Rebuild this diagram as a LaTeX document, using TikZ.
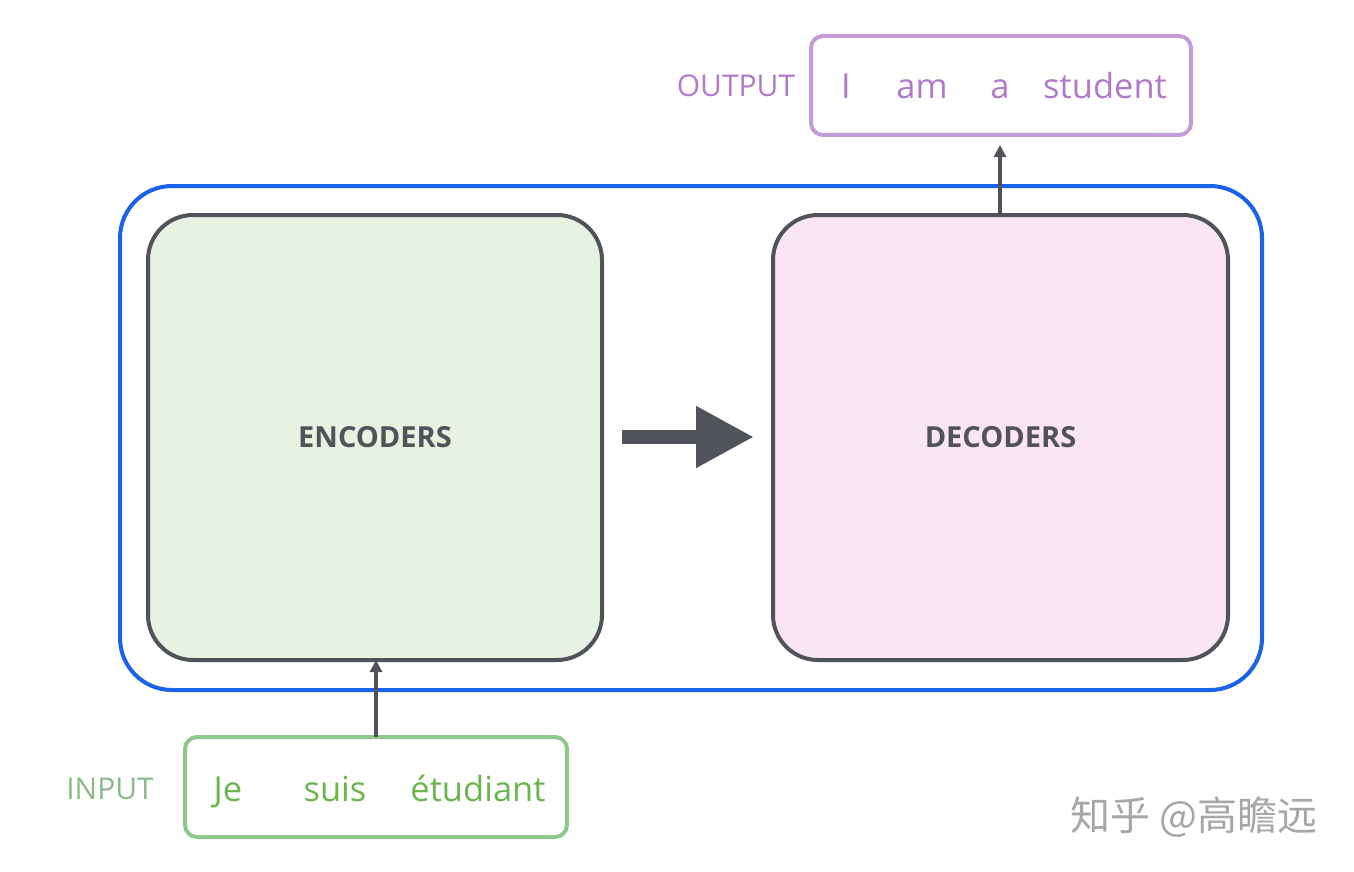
\documentclass[tikz,border=0pt]{standalone}
\usepackage{fontspec}
\setmainfont{Open Sans}
\newfontfamily\cjkfont{Noto Sans CJK SC}
\usetikzlibrary{arrows.meta}
\definecolor{blueline}{HTML}{1A62E8}
\definecolor{darkline}{HTML}{505359}
\definecolor{encfill}{HTML}{E7F2E2}
\definecolor{decfill}{HTML}{FAE6F1}
\definecolor{ingreen}{HTML}{8FC88C}
\definecolor{intext}{HTML}{6BB54F}
\definecolor{inlabel}{HTML}{8DB98A}
\definecolor{outline}{HTML}{C39CD8}
\definecolor{outtext}{HTML}{B07ACB}
\begin{document}
\begin{tikzpicture}[x=1pt,y=-1pt,
  block/.style={draw=darkline,line width=4pt,rounded corners=45pt},
  word/.style={font=\fontsize{34.5}{40}\selectfont,anchor=base,inner sep=0pt},
  lab/.style={font=\fontsize{30}{34}\selectfont,anchor=base,inner sep=0pt},
  conn/.style={draw=darkline,line width=4pt,-{Triangle[length=12pt,width=12pt]}}]
\useasboundingbox (0,0) rectangle (1354,872);
\draw[blueline,line width=4pt,rounded corners=52pt] (120,186) rectangle (1262,690);
\node[block,fill=encfill,minimum width=454pt,minimum height=445pt] (enc) at (375,437.5) {};
\node[text=darkline,font=\fontsize{29}{32}\selectfont\bfseries] at (enc) {ENCODERS};
\node[block,fill=decfill,minimum width=455pt,minimum height=445pt] (dec) at (1000.5,437.5) {};
\node[text=darkline,font=\fontsize{29}{32}\selectfont\bfseries] at (dec) {DECODERS};
\draw[darkline,line width=14pt,-{Triangle[length=58pt,width=58pt]}] (622,437) -- (754,437);
\node[draw=ingreen,line width=4pt,rounded corners=12pt,minimum width=382pt,minimum height=100pt] (in) at (376,787) {};
\node[word,text=intext] at (228,801) {Je};
\node[word,text=intext] at (335,801) {suis};
\node[word,text=intext] at (478,801) {étudiant};
\node[lab,text=inlabel] (inl) at (110,799) {INPUT};
\node[draw=outline,line width=4pt,rounded corners=12pt,minimum width=380pt,minimum height=99pt] (out) at (1001,85.5) {};
\node[word,text=outtext] at (846,99) {I};
\node[word,text=outtext] at (922,99) {am};
\node[word,text=outtext] at (1000,99) {a};
\node[word,text=outtext] at (1105,99) {student};
\node[lab,text=outtext] (outl) at (736,97) {OUTPUT};
\coordinate (a1) at (376,737);
\coordinate (a2) at (376,660);
\draw[conn] (a1) -- (a2);
\coordinate (b1) at (1000,215);
\coordinate (b2) at (1000,145);
\draw[conn] (b1) -- (b2);
\node[text=gray!70,font=\cjkfont\fontsize{40}{44}\selectfont] at (1194,817) {知乎 @高瞻远};
\end{tikzpicture}
\end{document}
